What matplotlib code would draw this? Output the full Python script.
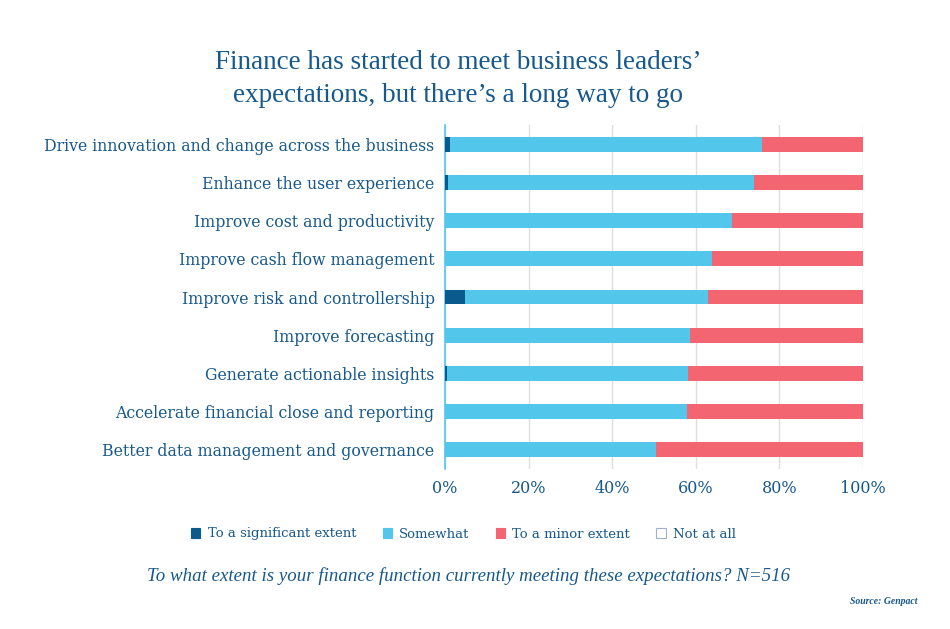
import matplotlib
matplotlib.use('Agg')
import matplotlib.pyplot as plt
from matplotlib.patches import Patch
from matplotlib.ticker import PercentFormatter

# Survey answers, top row first (share of respondents, %)
categories = ["Drive innovation and change across the business",
              "Enhance the user experience",
              "Improve cost and productivity",
              "Improve cash flow management",
              "Improve risk and controllership",
              "Improve forecasting",
              "Generate actionable insights",
              "Accelerate financial close and reporting",
              "Better data management and governance"]
significant = [1.3, 0.7, 0.0, 0.0, 4.7, 0.0, 0.4, 0.0, 0.0]
somewhat = [74.5, 73.2, 68.7, 63.8, 58.1, 58.5, 57.7, 58.0, 50.4]
minor = [24.2, 26.1, 31.3, 36.2, 37.2, 41.5, 41.9, 42.0, 49.6]
not_at_all = [0.0, 0.0, 0.0, 0.0, 0.0, 0.0, 0.0, 0.0, 0.0]
series_names = ["To a significant extent", "Somewhat", "To a minor extent", "Not at all"]

text_col = "#17598c"
colors = ["#0b5a8e", "#53c6eb", "#f26571", "white"]
serif = ["DejaVu Serif"]
narrow = ["Liberation Serif", "DejaVu Serif"]

fig = plt.figure(figsize=(9.5, 6.29), dpi=100)
ax = fig.add_axes([445 / 950, 1 - 469 / 629, 418 / 950, 344 / 629])

ypos = list(range(len(categories)))
left = [0.0] * len(categories)
for vals, col in zip([significant, somewhat, minor, not_at_all], colors):
    ax.barh(ypos, vals, left=left, height=0.39, color=col, zorder=3)
    left = [l + v for l, v in zip(left, vals)]

ax.set_ylim(len(categories) - 0.5, -0.5)
ax.set_xlim(0, 100)
ax.set_xticks([0, 20, 40, 60, 80, 100])
ax.xaxis.set_major_formatter(PercentFormatter(decimals=0))
ax.set_yticks(ypos)
ax.set_yticklabels(categories)
ax.grid(axis="x", color="#dcdfe3", linewidth=1, zorder=0)
for s in ["top", "right", "bottom"]:
    ax.spines[s].set_visible(False)
ax.spines["left"].set_color("#53c6eb")
ax.spines["left"].set_linewidth(1.2)
ax.tick_params(axis="y", length=0, colors=text_col, labelsize=11.3, pad=7.5)
ax.tick_params(axis="x", length=0, colors=text_col, labelsize=11.5, pad=8)
for t in ax.get_xticklabels() + ax.get_yticklabels():
    t.set_family(serif)
    t.set_color(text_col)

fig.text(0.482, 1 - 79 / 629, "Finance has started to meet business leaders’\nexpectations, but there’s a long way to go",
         ha="center", va="center", fontsize=19.5, color=text_col, family=narrow, linespacing=1.45)

handles = [Patch(facecolor=c, edgecolor=(c if c != "white" else "#9fb3c8"), linewidth=0.8)
           for c in colors]
fig.legend(handles, series_names, loc="center", bbox_to_anchor=(0.488, 1 - 534 / 629), ncol=4,
           frameon=False, handlelength=0.7, handleheight=0.7, handletextpad=0.55,
           columnspacing=2.0, prop={"family": serif, "size": 9.5}, labelcolor=text_col)

fig.text(0.493, 1 - 576 / 629,
         "To what extent is your finance function currently meeting these expectations? N=516",
         ha="center", va="center", fontsize=13.6, style="italic", color=text_col, family=narrow)
fig.text(917 / 950, 1 - 602 / 629, "Source: Genpact", ha="right", va="center", fontsize=7,
         style="italic", weight="bold", color=text_col, family=narrow)

fig.savefig("out.png", dpi=100)
